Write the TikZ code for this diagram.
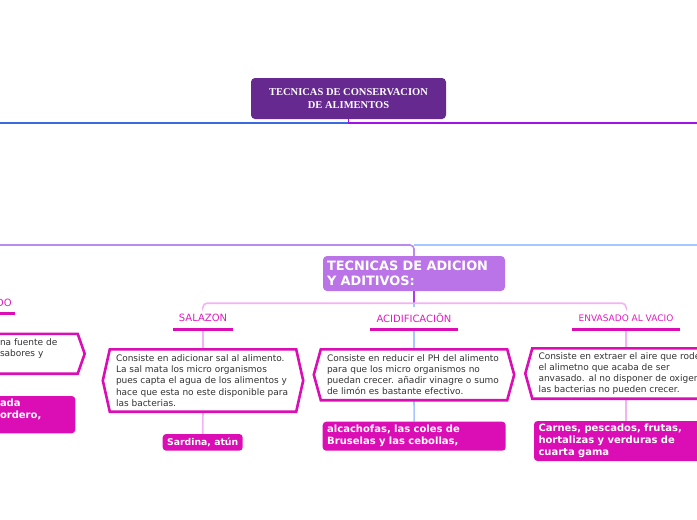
\documentclass[tikz,border=0pt]{standalone}
\usepackage{fontspec}
\setmainfont{DejaVu Sans}
\newfontfamily\rootserif{Liberation Serif}
\usetikzlibrary{calc,backgrounds}
\definecolor{rootc}{HTML}{66298F}
\definecolor{adicc}{HTML}{BA74E8}
\definecolor{magc}{HTML}{DB0DB5}
\definecolor{labc}{HTML}{DE1CBE}
\definecolor{pinkc}{HTML}{F4B2F4}
\definecolor{lbluec}{HTML}{A6C6FF}
\definecolor{dbluec}{HTML}{3A6AE2}
\definecolor{vioc}{HTML}{A012E6}
\definecolor{lvioc}{HTML}{B98AF0}
\definecolor{purpc}{HTML}{A83AF0}
\definecolor{txtc}{HTML}{333333}
\newcommand\hexof[2][7]{\draw[hexframe] (#2.west) -- ($(#2.north west)+(#1,0)$) -- ($(#2.north east)+(-#1,0)$) -- (#2.east) -- ($(#2.south east)+(-#1,0)$) -- ($(#2.south west)+(#1,0)$) -- cycle;}
\tikzset{
 rootbox/.style={fill=rootc, rounded corners=4pt, minimum width=195pt, minimum height=41pt, text=white,
   font=\rootserif\bfseries\fontsize{10.5}{12.5}\selectfont, align=center, inner sep=0pt},
 topicbox/.style={fill=adicc, rounded corners=4pt, minimum height=35pt, text=white,
   font=\bfseries\fontsize{12.9}{15}\selectfont, align=left, text width=174pt, inner xsep=4pt, inner ysep=0pt},
 lab/.style={text=labc, font=\fontsize{10}{12}\selectfont, minimum height=22pt, inner xsep=6pt, inner ysep=0pt},
 ul/.style={draw=magc, line width=3pt},
 hexnode/.style={inner sep=0pt},
 hexframe/.style={draw=magc, line width=2.6pt, fill=white, line join=miter},
 hextext/.style={text=txtc, font=\fontsize{9}{11.2}\selectfont, align=left, inner sep=0pt},
 exbox/.style={fill=magc, rounded corners=3.5pt, text=white, font=\bfseries\fontsize{10}{12}\selectfont,
   align=left, inner xsep=4.5pt, inner ysep=0pt},
 conn/.style={line width=1.6pt},
}
\begin{document}
\begin{tikzpicture}[x=1pt,y=-1pt]
\useasboundingbox (0,0) rectangle (697,520);
\clip (0,0) rectangle (697,520);

% main nodes
\node[rootbox] (root) at (348.5,98.5) {TECNICAS DE CONSERVACION\\DE ALIMENTOS};
\node[topicbox] (adic) at (414,273.5) {TECNICAS DE ADICION\\Y ADITIVOS:};

% labels
\node[lab] (salL) at (203,318) {SALAZON};
\node[lab] (acL) at (414,318) {ACIDIFICACIÕN};
\node[lab, font=\fontsize{9}{11}\selectfont] (envL) at (626,318) {ENVASADO AL VACIO};
\node[lab, anchor=east, inner xsep=3pt] (ahL) at (15,302.5) {DO};
\draw[ul] (ahL.south west) -- (ahL.south east);
\draw[ul] (salL.south west) -- (salL.south east);
\draw[ul] (acL.south west) -- (acL.south east);
\draw[ul] (envL.south west) -- (envL.south east);

% hexagons
\node[hexnode, minimum width=200pt, minimum height=62pt] (salH) at (203,380.5) {};
\hexof{salH}
\node[hextext, anchor=west] (salT) at ($(salH.west)+(13,0)$) {Consiste en adicionar sal al alimento.\\La sal mata los micro organismos\\pues capta el agua de los alimentos y\\hace que esta no este disponible para\\las bacterias.};

\node[hexnode, minimum width=200pt, minimum height=50.5pt] (acH) at (414,374.75) {};
\hexof{acH}
\node[hextext, anchor=west] (acT) at ($(acH.west)+(13,0)$) {Consiste en reducir el PH del alimento\\para que los micro organismos no\\puedan crecer. añadir vinagre o sumo\\de limón es bastante efectivo.};

\node[hexnode, minimum width=234.5pt, minimum height=50pt] (envH) at (642.75,373.5) {};
\hexof{envH}
\node[hextext, anchor=west] (envT) at ($(envH.west)+(13,0)$) {Consiste en extraer el aire que rode\\el alimetno que acaba de ser\\anvasado. al no disponer de oxigen\\las bacterias no pueden crecer.};

\node[hexnode, minimum width=97.5pt, minimum height=39.5pt] (ahH) at (35.75,353.75) {};
\hexof{ahH}
\node[hextext, anchor=west] (ahT) at ($(ahH.west)+(13,-5.5)$) {na fuente de\\sabores y};

% example boxes
\node[exbox, align=center, minimum width=76pt, minimum height=16.7pt, font=\bfseries\fontsize{9.3}{11}\selectfont] (salEx) at (202.7,442.35) {Sardina, atún};
\node[exbox, text width=174pt, minimum height=29pt] (acEx) at (414.2,436.2) {alcachofas, las coles de\\Bruselas y las cebollas,};
\node[exbox, text width=216pt, minimum height=40pt] (envEx) at (646.5,441) {Carnes, pescados, frutas,\\hortalizas y verduras de\\cuarta gama};
\node[exbox, text width=70.8pt, minimum height=37.3pt] (ahEx) at (35.4,414.65) {ada\\ordero,\\\mbox{}};

% connectors
\begin{scope}[on background layer]
\coordinate (L1) at (0,123);
\coordinate (R1) at (697,123);
\draw[conn, dbluec, line width=1.4pt] (root.south) |- (L1);
\draw[conn, vioc, line width=1.4pt] (root.south) |- (R1);
\coordinate (L2) at (0,245);
\coordinate (R2) at (697,245);
\draw[conn, lvioc, rounded corners=4pt] (L2) -| (adic.north);
\draw[conn, lbluec] (adic.north |- R2) -- (R2);
\coordinate (J) at ($(adic.south)+(0,12)$);
\draw[conn, purpc] (adic.south) -- (J);
\draw[conn, pinkc, rounded corners=4pt] (J) -| (salL.north);
\draw[conn, pinkc, rounded corners=4pt] (J) -| (envL.north);
\draw[conn, lbluec] (J) -- (acL.north);
\draw[conn, pinkc] (salL.south) -- (salH.north);
\draw[conn, pinkc] (salH.south) -- (salEx.north);
\draw[conn, lbluec] (acL.south) -- (acH.north);
\draw[conn, lbluec] (acH.south) -- (acEx.north);
\draw[conn, pinkc] (envL.south) -- (envL.south |- envH.north);
\draw[conn, pinkc] (envL.south |- envH.south) -- (envL.south |- envEx.north);
\end{scope}
\end{tikzpicture}
\end{document}
